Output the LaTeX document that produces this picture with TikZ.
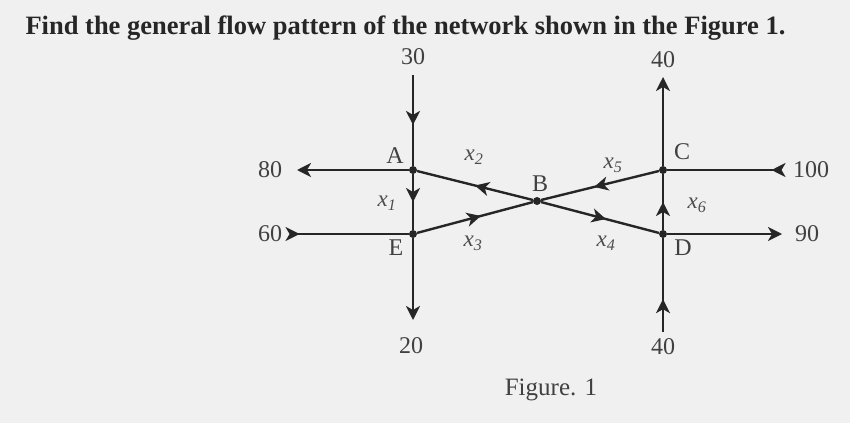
\documentclass[tikz,border=0pt]{standalone}
\usepackage{fontspec}
\setmainfont{Liberation Serif}
\usetikzlibrary{decorations.markings,arrows.meta}
\begin{document}
\begin{tikzpicture}[x=1pt,y=-1pt,
  tip/.tip={Triangle[length=14pt,width=14pt,inset=4pt]},
  ln/.style={line width=2.4pt,draw=black!85},
  mid/.style={postaction={decorate},decoration={markings,mark=at position #1 with {\arrow[black!85]{tip}}}},
  dot/.style={circle,fill=black!85,inner sep=0pt,minimum size=8pt},
  lbl/.style={font=\fontsize{24}{24}\selectfont,text=black!75},
  xl/.style={font=\fontsize{23}{23}\selectfont\itshape,text=black!70}]
\fill[black!6] (0,0) rectangle (850,423);
\useasboundingbox (0,0) rectangle (850,423);
\node[font=\fontsize{26.5}{26}\selectfont\bfseries,text=black!85,anchor=west] (t) at (22,28) {Find the general flow pattern of the network shown in the Figure 1.};
\node[dot] (A) at (413,170) {};
\node[dot] (E) at (413,234) {};
\node[dot] (B) at (537,201) {};
\node[dot] (C) at (663,170) {};
\node[dot] (D) at (663,234) {};
\coordinate (At) at (413,75);
\coordinate (Eb) at (413,320);
\coordinate (Al) at (297,170);
\coordinate (El) at (295,234);
\coordinate (Cr) at (777,170);
\coordinate (Dr) at (782,234);
\coordinate (Ct) at (663,77);
\coordinate (Db) at (663,332);
\draw[ln,mid=0.55] (At) -- (A);
\draw[ln,mid=0.5] (A) -- (E);
\draw[ln,-tip] (E) -- (Eb);
\draw[ln,-tip] (A) -- (Al);
\draw[ln,mid=0.04] (El) -- (E);
\draw[ln,mid=0.5] (B) -- (A);
\draw[ln,mid=0.55] (E) -- (B);
\draw[ln,mid=0.55] (C) -- (B);
\draw[ln,mid=0.55] (B) -- (D);
\draw[ln,mid=0.5] (D) -- (C);
\draw[ln,-tip] (C) -- (Ct);
\draw[ln,mid=0.35] (Db) -- (D);
\draw[ln,mid=0.05] (Cr) -- (C);
\draw[ln,-tip] (D) -- (Dr);
\node[lbl] (l30) at (413,57) {30};
\node[lbl] (l40t) at (663,60) {40};
\node[lbl] (l80) at (270,170) {80};
\node[lbl] (l60) at (270,234) {60};
\node[lbl] (l100) at (811,170) {100};
\node[lbl] (l90) at (807,234) {90};
\node[lbl] (l20) at (411,346) {20};
\node[lbl] (l40b) at (663,347) {40};
\node[lbl] (nA) at (395,156) {A};
\node[lbl] (nE) at (396,248) {E};
\node[lbl] (nB) at (540,184) {B};
\node[lbl] (nC) at (682,152) {C};
\node[lbl] (nD) at (683,248) {D};
\node[xl] (x1) at (387,203) {x\textsubscript{1}};
\node[xl] (x2) at (474,157) {x\textsubscript{2}};
\node[xl] (x3) at (473,243) {x\textsubscript{3}};
\node[xl] (x4) at (606,243) {x\textsubscript{4}};
\node[xl] (x5) at (613,165) {x\textsubscript{5}};
\node[xl] (x6) at (697,205) {x\textsubscript{6}};
\node[font=\fontsize{25}{25}\selectfont,text=black!75] (fig) at (551,390) {Figure. 1};
\end{tikzpicture}
\end{document}
